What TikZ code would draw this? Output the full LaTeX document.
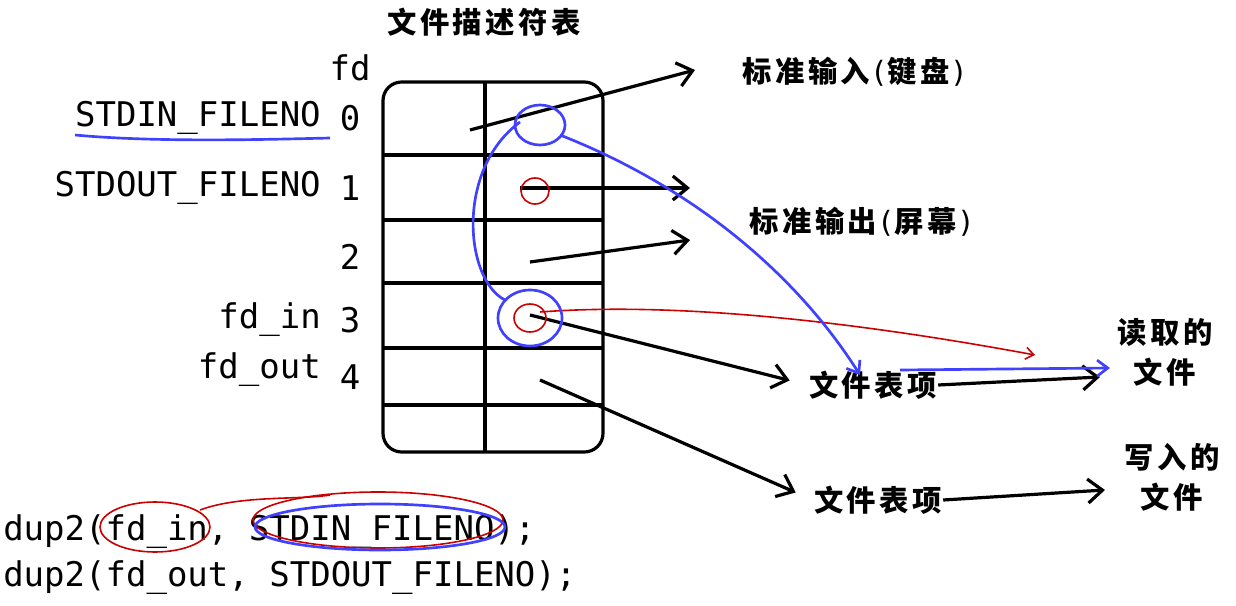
\documentclass[tikz,border=0pt]{standalone}
\usepackage{fontspec}
\setmainfont{DejaVu Sans Mono}
\newfontfamily\cjk[LetterSpace=12]{Noto Sans CJK SC}
\usetikzlibrary{arrows.meta}
\begin{document}
\begin{tikzpicture}[x=0.75pt,y=0.75pt,yscale=-1,
  lbl/.style={inner sep=0.75pt,font=\fontsize{25.5}{30}\selectfont},
  zh/.style={inner sep=0.75pt,font=\fontsize{22}{30}\selectfont\cjk\bfseries},
  arr/.style={line width=2.4pt,-{Straight Barb[length=11pt,width=18pt]}},
  grid/.style={line width=2.4pt},
  redm/.style={red!80!black,line width=1.2pt},
  bluem/.style={blue!75!white,line width=2pt}]
\useasboundingbox[fill=white] (0,0) rectangle (1236,606);

%table
\draw[grid,rounded corners=14pt] (383,82) rectangle (603,452);
\draw[grid] (485,82) -- (485,452);
\foreach \y in {155,220,283,348,405}
  \draw[grid] (383,\y) -- (603,\y);

% Text Node
\node[zh] (title) at (484,22) {文件描述符表};
\node[lbl] (fd) at (350,68) {fd};
\node[lbl,anchor=east] (in0) at (322,118) {STDIN\_FILENO};
\node[lbl] (n0) at (350,118) {0};
\node[lbl,anchor=east] (out1) at (322,188) {STDOUT\_FILENO};
\node[lbl] (n1) at (350,188) {1};
\node[lbl] (n2) at (350,257) {2};
\node[lbl,anchor=east] (fdin) at (322,320) {fd\_in};
\node[lbl] (n3) at (350,320) {3};
\node[lbl,anchor=east] (fdout) at (322,370) {fd\_out};
\node[lbl] (n4) at (350,377) {4};

\node[zh] (kbd) at (855,72) {标准输入{\rmfamily\mdseries(}键盘{\rmfamily\mdseries)}};
\node[zh] (scr) at (862,222) {标准输出{\rmfamily\mdseries(}屏幕{\rmfamily\mdseries)}};
\node[zh] (ft1) at (873,385) {文件表项};
\node[zh] (ft2) at (878,500) {文件表项};
\node[zh,align=center] (rdf) at (1165,352) {读取的\\文件};
\node[zh,align=center] (wrf) at (1172,477) {写入的\\文件};

\node[lbl,anchor=west] (code1) at (2,532) {dup2(fd\_in, STDIN\_FILENO);};
\node[lbl,anchor=west] (code2) at (2,578) {dup2(fd\_out, STDOUT\_FILENO);};

%coordinates in the table
\coordinate (c0) at (470,130);
\coordinate (c1) at (520,188);
\coordinate (c2) at (530,262);
\coordinate (c3) at (530,315);
\coordinate (c4) at (540,380);

%black arrows
\draw[arr] (c0) -- (695,70);
\draw[arr] (c1) -- (690,188);
\draw[arr] (c2) -- (690,240);
\draw[arr,shorten >=14pt] (c3) -- (ft1.west);
\draw[arr,shorten >=14pt] (c4) -- (ft2.west);
\draw[arr] (ft1.east) -- (1100,377);
\draw[arr] (ft2.east) -- (1105,490);

%red marks
\draw[redm] (535,191) circle [x radius=14, y radius=13];
\draw[redm] (530,318) circle [x radius=16, y radius=14];
\draw[redm,-{Straight Barb[length=6pt,width=9pt]}] (540,312) .. controls (700,300) and (900,330) .. (1035,355);
\draw[redm] (155,527) ellipse [x radius=55, y radius=25];
\draw[redm] (378,520) ellipse [x radius=125, y radius=28];
\draw[redm] (200,510) .. controls (240,495) and (300,500) .. (330,495);

%blue marks
\draw[bluem] (540,125) circle [x radius=25, y radius=20];
\draw[bluem] (530,318) circle [x radius=32, y radius=28];
\draw[bluem] (520,122) .. controls (455,170) and (465,280) .. (505,300);
\draw[bluem,-{Straight Barb[length=8pt,width=12pt]}] (560,135) .. controls (700,190) and (800,280) .. (860,375);
\draw[bluem,-{Straight Barb[length=8pt,width=12pt]}] (900,370) -- (1110,368);
\draw[bluem] (75,135) .. controls (150,142) and (250,140) .. (330,138);
\draw[bluem] (380,527) ellipse [x radius=125, y radius=23];
\end{tikzpicture}
\end{document}
